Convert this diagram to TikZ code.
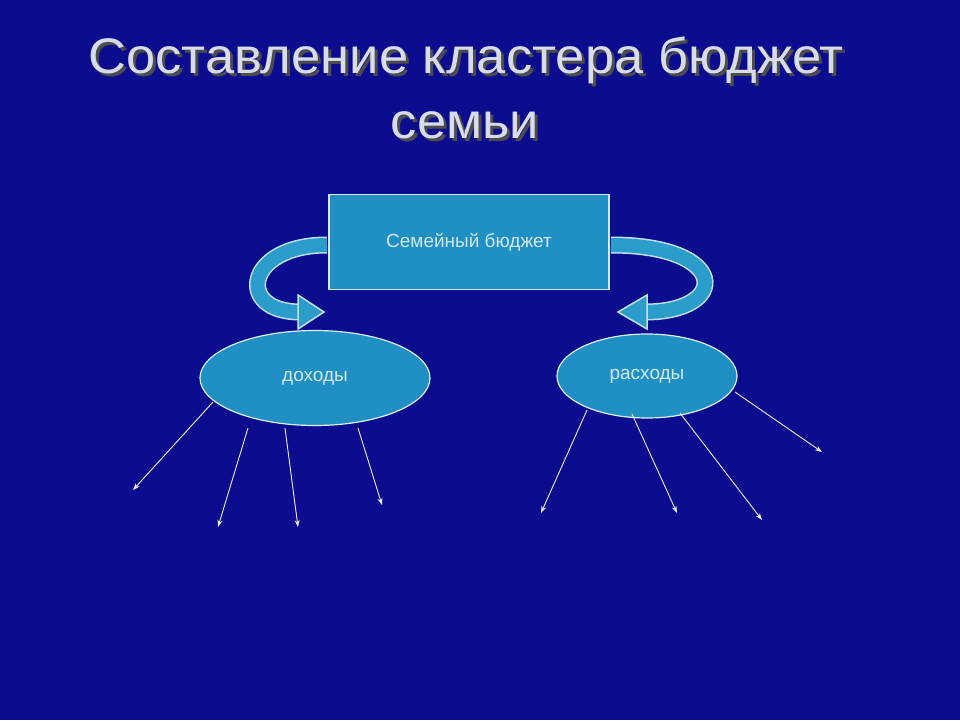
\documentclass[tikz,border=0pt]{standalone}
\usepackage{fontspec}
\setmainfont{Liberation Sans}
\usetikzlibrary{shapes.geometric,arrows.meta}
\definecolor{bg}{HTML}{0C0C8E}
\definecolor{boxc}{HTML}{1F8FC4}
\definecolor{band}{HTML}{2C9CCB}
\definecolor{tit}{HTML}{D8DCE8}
\begin{document}
\begin{tikzpicture}[x=1pt,y=-1pt,
  title/.style={text=tit,font=\fontsize{50}{54}\selectfont,xscale=1.05},
  shadowt/.style={text=black!70,font=\fontsize{50}{54}\selectfont,xscale=1.05},
  ell/.style={ellipse,draw=white!85!boxc,line width=1.2pt,fill=boxc,text=white!80!boxc,font=\fontsize{19}{22}\selectfont},
  lnk/.style={draw=white!85!gray,line width=0.9pt,-{Stealth[length=7pt,width=5pt]}},
  bandline/.style={draw=white!70!band,line width=17pt},
  bandfill/.style={draw=band,line width=14pt}]
\fill[bg] (0,0) rectangle (960,720);
\useasboundingbox (0,0) rectangle (960,720);
\node[shadowt] at (469,63) {Составление кластера бюджет};
\node[title] (t1) at (466,60) {Составление кластера бюджет};
\node[shadowt] at (468,128) {семьи};
\node[title] (t2) at (465,125) {семьи};
\node[draw=white!80!boxc,line width=1.5pt,fill=boxc,minimum width=280pt,minimum height=95pt,text=white!80!boxc,font=\fontsize{19}{22}\selectfont] (box) at (469,242) {\raisebox{3pt}{Семейный бюджет}};
% curved arrows
\coordinate (la) at (327,245);
\coordinate (lb) at (300,312);
\draw[bandline] (la) .. controls (245,245) and (235,312) .. (lb);
\draw[bandfill] (la) .. controls (245,245) and (235,312) .. (lb);
\fill[band,draw=white!70!band,line width=1.5pt] (298,295) -- (324,312) -- (298,329) -- cycle;
\coordinate (ra) at (611,245);
\coordinate (rb) at (645,312);
\draw[bandline] (ra) .. controls (730,245) and (730,312) .. (rb);
\draw[bandfill] (ra) .. controls (730,245) and (730,312) .. (rb);
\fill[band,draw=white!70!band,line width=1.5pt] (647,295) -- (618,312) -- (647,329) -- cycle;
\node[ell,minimum width=230pt,minimum height=95pt] (inc) at (315,378) {доходы};
\node[ell,minimum width=180pt,minimum height=84pt] (exp) at (647,376) {\raisebox{3pt}{расходы}};
\coordinate (i1) at (213,402); \coordinate (e1) at (133,490);
\coordinate (i2) at (248,428); \coordinate (e2) at (218,527);
\coordinate (i3) at (285,428); \coordinate (e3) at (298,527);
\coordinate (i4) at (358,428); \coordinate (e4) at (382,505);
\coordinate (o1) at (587,410); \coordinate (f1) at (541,513);
\coordinate (o2) at (632,414); \coordinate (f2) at (677,513);
\coordinate (o3) at (680,413); \coordinate (f3) at (762,520);
\coordinate (o4) at (735,392); \coordinate (f4) at (822,452);
\foreach \a/\b in {i1/e1,i2/e2,i3/e3,i4/e4,o1/f1,o2/f2,o3/f3,o4/f4}
  \draw[lnk] (\a) -- (\b);
\end{tikzpicture}
\end{document}
